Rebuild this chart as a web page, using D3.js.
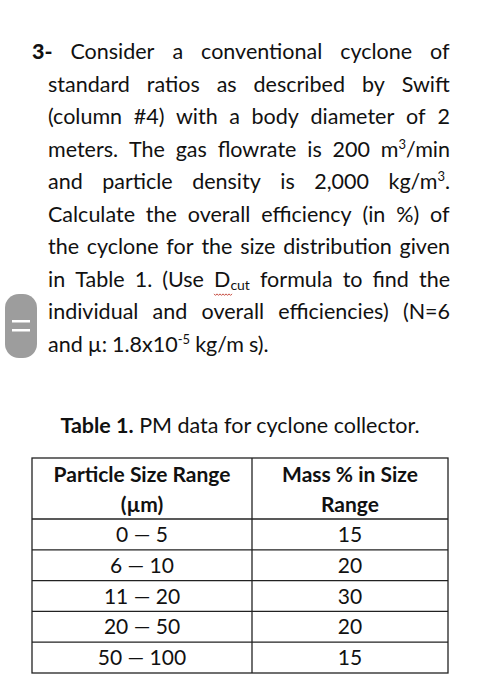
<!DOCTYPE html>
<html><head><meta charset="utf-8">
<script src="https://cdn.jsdelivr.net/npm/d3@7"></script>
<style>body{margin:0;background:#fff}</style></head>
<body><svg id="c" width="480" height="700"></svg>
<script>
const sizeRanges = ["0 – 5","6 – 10","11 – 20","20 – 50","50 – 100"];
const massPct = [15,20,30,20,15];
const headers = [["Particle Size Range","(µm)"],["Mass % in Size","Range"]];
const paraLines = [
 ["3-","Consider","a","conventional","cyclone","of"],
 ["standard","ratios","as","described","by","Swift"],
 ["(column","#4)","with","a","body","diameter","of","2"],
 ["meters.","The","gas","flowrate","is","200","m³/min"],
 ["and","particle","density","is","2,000","kg/m³."],
 ["Calculate","the","overall","efficiency","(in","%)","of"],
 ["the","cyclone","for","the","size","distribution","given"],
 ["in","Table","1.","(Use","Dcut","formula","to","find","the"],
 ["individual","and","overall","efficiencies)","(N=6"],
 ["and","µ:","1.8x10⁻⁵","kg/m","s)."]
];
const svg = d3.select("#c");
const font = "Lato, 'Open Sans', sans-serif";
const FS = 21.5;
const lineY = d3.scaleLinear().domain([0,9]).range([59,352]);
paraLines.forEach((words,i)=>{
  const x0 = i===0 ? 32 : 48, x1 = 450;
  const last = i===paraLines.length-1;
  const g = svg.append("g");
  const ts = words.map(w=>{
    const t = g.append("text").attr("y",lineY(i)).attr("font-family",font).attr("font-size",FS).attr("fill","#111");
    if(w==="3-") t.attr("font-weight","900").text(w);
    else if(w==="Dcut"){ t.append("tspan").text("D"); t.append("tspan").attr("font-size",14).attr("dy",3).text("cut"); t.attr("data-d",1); }
    else if(w==="1.8x10⁻⁵"){ t.append("tspan").text("1.8x10"); t.append("tspan").attr("font-size",13).attr("dy",-8).text("-5"); }
    else if(w.includes("³")){ const p=w.split("³"); t.append("tspan").text(p[0]); t.append("tspan").attr("font-size",13).attr("dy",-8).text("3"); t.append("tspan").attr("dy",8).text(p[1]); }
    else t.text(w);
    return t;
  });
  const ws = ts.map(t=>t.node().getBBox().width);
  const total = d3.sum(ws);
  const gap = last ? 5 : (x1-x0-total)/(words.length-1);
  let x = x0;
  ts.forEach((t,j)=>{
    t.attr("x",x);
    if(t.attr("data-d")){
      const y = lineY(i)+7; let d = `M${x},${y}`;
      for(let k=0;k<ws[j];k+=3) d += ` l1.5,${(k/3)%2?-1.5:1.5}`;
      svg.append("path").attr("d",d).attr("fill","none").attr("stroke","#c0392b").attr("stroke-width",0.9);
    }
    x += ws[j]+gap;
  });
});
// pill
svg.append("rect").attr("x",5).attr("y",294).attr("width",32).attr("height",64).attr("rx",14).attr("fill","#9d9d9d");
[320,329].forEach(y=>svg.append("rect").attr("x",12).attr("y",y).attr("width",18).attr("height",2.5).attr("fill","#fff"));
// caption
const cap = svg.append("text").attr("x",240).attr("y",433).attr("text-anchor","middle").attr("font-family",font).attr("font-size",21.5).attr("fill","#111");
cap.append("tspan").attr("font-weight","bold").text("Table 1.");
cap.append("tspan").text(" PM data for cyclone collector.");
// table
const colX = d3.scaleOrdinal().domain([0,1]).range([32,252]);
const colW = [220,196];
const rowY = d3.scaleBand().domain(d3.range(sizeRanges.length)).range([519,673]);
const tg = svg.append("g").attr("font-family",font).attr("fill","#111");
svg.append("rect").attr("x",32).attr("y",458).attr("width",416).attr("height",215).attr("fill","none").attr("stroke","#222").attr("stroke-width",1.3);
svg.append("line").attr("x1",252).attr("x2",252).attr("y1",458).attr("y2",673).attr("stroke","#222").attr("stroke-width",1.3);
svg.selectAll("line.r").data(d3.range(sizeRanges.length)).join("line").attr("x1",32).attr("x2",448)
  .attr("y1",d=>rowY(d)).attr("y2",d=>rowY(d)).attr("stroke","#222").attr("stroke-width",1.3);
headers.forEach((h,c)=>{
  h.forEach((s,k)=>tg.append("text").attr("x",colX(c)+colW[c]/2).attr("y",482+k*30).attr("text-anchor","middle")
    .attr("font-size",21).attr("font-weight","bold").text(s));
});
sizeRanges.forEach((s,i)=>{
  const y = rowY(i)+rowY.bandwidth()/2+7.5;
  tg.append("text").attr("x",colX(0)+colW[0]/2).attr("y",y).attr("text-anchor","middle").attr("font-size",21).text(s.replace(/ – /," — "));
  tg.append("text").attr("x",colX(1)+colW[1]/2).attr("y",y).attr("text-anchor","middle").attr("font-size",21).text(massPct[i]);
});
</script></body></html>
